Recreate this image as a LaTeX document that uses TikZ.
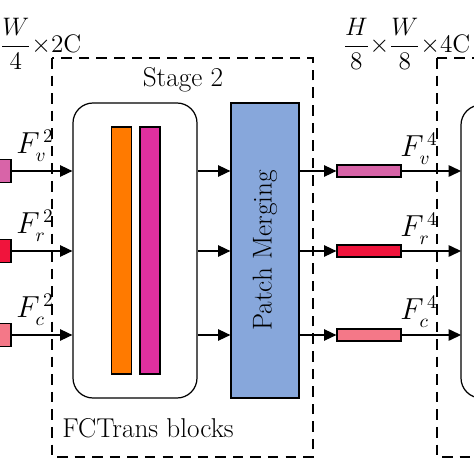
\documentclass[tikz,border=0pt]{standalone}
\usepackage{amsmath}
\usetikzlibrary{arrows.meta,positioning}
\definecolor{pmblue}{HTML}{87A7DB}
\definecolor{barorange}{HTML}{FF7A00}
\definecolor{barmagenta}{HTML}{E0309F}
\definecolor{featv}{HTML}{D864A8}
\definecolor{featr}{HTML}{F0143C}
\definecolor{featc}{HTML}{F47888}
\newcommand\px{0.02cm}
\tikzset{
  stagebox/.style={draw, dashed, line width=0.9pt, dash pattern=on 6pt off 4pt},
  blockbox/.style={draw, rounded corners=0.4cm, minimum width=124*\px, minimum height=295*\px},
  barbox/.style={draw, minimum width=20*\px, minimum height=247*\px},
  featbox/.style={draw, minimum width=64*\px, minimum height=12*\px},
  inbox/.style={draw, minimum width=22*\px, minimum height=23*\px},
  flabel/.style={inner sep=0pt, font=\fontsize{16}{18}\selectfont},
  sizelabel/.style={inner sep=0pt, anchor=east, font=\fontsize{15.5}{18}\selectfont}
}
\begin{document}
\begin{tikzpicture}[x=\px, y=-\px, line width=0.7pt,
  font=\fontsize{15.5}{18}\selectfont,
  >={Triangle[length=7pt,width=6.5pt]}]
  \useasboundingbox (0,0) rectangle (474,474);
  % Dashed stage frames
  \draw[stagebox] (52,58) rectangle (313,457);
  \draw[stagebox] (437,58) rectangle (500,457);
  \node at (183,80) {Stage 2};
  \node[anchor=west] at (56,428) {FCTrans blocks};
  % Size labels
  \node[sizelabel] at (82,44) {$\dfrac{H}{4}{\times}\dfrac{W}{4}{\times}2\mathrm{C}$};
  \node[sizelabel] at (471,44) {$\dfrac{H}{8}{\times}\dfrac{W}{8}{\times}4\mathrm{C}$};
  % FCTrans block
  \node[blockbox] (fct) at (135,250.5) {};
  \node[barbox, fill=barorange] (bar1) at (121.5,250.5) {};
  \node[barbox, fill=barmagenta] (bar2) at (150,250.5) {};
  % Patch merging
  \node[draw, fill=pmblue, minimum width=68*\px, minimum height=295*\px] (pm) at (265,250.5) {};
  \node[rotate=90] at (pm.center) {Patch Merging};
  % Next stage block
  \draw[rounded corners=0.4cm] (540,105) -- (461,105) -- (461,398) -- (540,398);
  \coordinate (next) at (461,250);
  % Inputs
  \node[inbox, fill=featv] (inv) at (0,171) {};
  \node[inbox, fill=featr] (inr) at (0,251) {};
  \node[inbox, fill=featc] (inc) at (0,335) {};
  \node[flabel] at (35,146) {$F_v^{\,2}$};
  \node[flabel] at (35,226) {$F_r^{\,2}$};
  \node[flabel] at (35,310) {$F_c^{\,2}$};
  % Outputs of patch merging
  \node[featbox, fill=featv] (outv) at (369,171) {};
  \node[featbox, fill=featr] (outr) at (369,251) {};
  \node[featbox, fill=featc] (outc) at (369,335) {};
  \node[flabel] at (419,149) {$F_v^{\,4}$};
  \node[flabel] at (419,229) {$F_r^{\,4}$};
  \node[flabel] at (419,312) {$F_c^{\,4}$};
  % Arrows
  \foreach \f in {v,r,c}{
    \draw[->] (in\f.east) -- (in\f.east -| fct.west);
    \draw[->] (in\f.east -| fct.east) -- (in\f.east -| pm.west);
    \draw[->] (out\f.west -| pm.east) -- (out\f.west);
    \draw[->] (out\f.east) -- (out\f.east -| next);
  }
\end{tikzpicture}
\end{document}
